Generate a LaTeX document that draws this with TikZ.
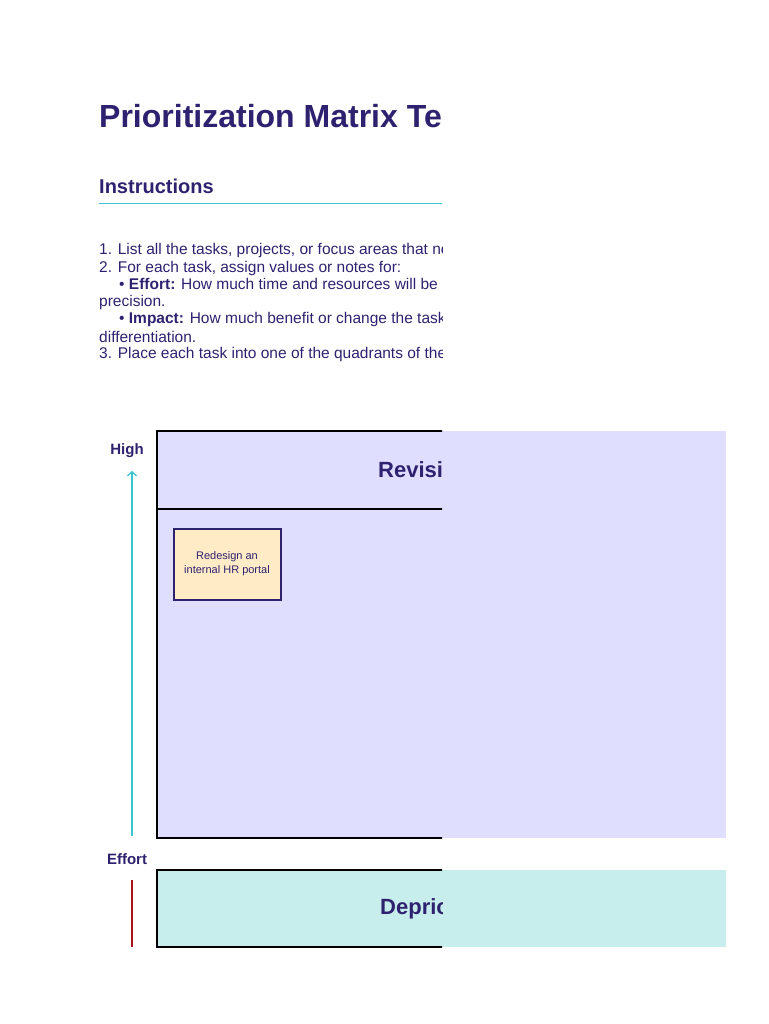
\documentclass[tikz,border=0pt]{standalone}
\usepackage{fontspec}
\setmainfont{Liberation Sans}
\usetikzlibrary{arrows.meta}
\definecolor{ink}{HTML}{2E2270}
\definecolor{lav}{HTML}{E0DEFF}
\definecolor{teal}{HTML}{C7EEEC}
\definecolor{note}{HTML}{FFEBC6}
\definecolor{aqua}{HTML}{3CC3D0}
\definecolor{ruby}{HTML}{A8121C}
\tikzset{
  txt/.style={text=ink, anchor=west, inner sep=0pt},
  body/.style={txt, font=\fontsize{15.5}{17}\selectfont},
  axislabel/.style={text=ink, font=\fontsize{15}{17}\selectfont\bfseries, inner sep=0pt},
  border/.style={line width=2pt, black},
}
\begin{document}
\begin{tikzpicture}[x=1pt, y=-1pt]
    \useasboundingbox (0,0) rectangle (768,1024);

    % Quadrant fills
    \fill[lav] (157,431) rectangle (726,838);
    \fill[teal] (157,870) rectangle (726,947);

    \begin{scope}
    \clip (0,0) rectangle (442,1024);
    % Title and instructions
    \node[txt, font=\fontsize{32}{36}\selectfont\bfseries] (title) at (99,119) {Prioritization Matrix Template};
    \node[txt, font=\fontsize{20}{24}\selectfont\bfseries] (instr) at (99,186) {Instructions};
    \draw[aqua, line width=1pt] (99,204) -- (442,204);

    \node[body] (l1) at (99,250) {1. List all the tasks, projects, or focus areas that need to be prioritized.};
    \node[body] (l2) at (99,268) {2. For each task, assign values or notes for:};
    \node[body] (l3) at (119,285) {\textbullet\ \textbf{Effort:} How much time and resources will be required, without overthinking};
    \node[body] (l4) at (99,302) {precision.};
    \node[body] (l5) at (119,319) {\textbullet\ \textbf{Impact:} How much benefit or change the task will bring, with a clear};
    \node[body] (l6) at (99,337) {differentiation.};
    \node[body] (l7) at (99,354) {3. Place each task into one of the quadrants of the matrix below.};

    % Quadrant borders
    \draw[border] (726,431) -- (157,431) -- (157,838) -- (726,838);
    \draw[border] (157,509) -- (726,509);
    \draw[border] (726,870) -- (157,870) -- (157,947) -- (726,947);

    % Quadrant titles
    \node[txt, font=\fontsize{22}{26}\selectfont\bfseries] (revisit) at (378,470) {Revisit Later};
    \node[txt, font=\fontsize{22}{26}\selectfont\bfseries] (deprio) at (380,909) {Deprioritize};
    \end{scope}

    % Task card
    \node[draw=ink, line width=2pt, fill=note, text=ink, minimum width=107pt, minimum height=71pt,
          align=center, font=\fontsize{11}{14}\selectfont] (task) at (227,564) {Redesign an\\internal HR portal};

    % Axis
    \node[axislabel] (high) at (127,451) {High};
    \node[axislabel] (effort) at (127,859) {Effort};
    \coordinate (abot) at (132,836);
    \coordinate (atop) at (132,471);
    \draw[aqua, line width=1.3pt, -{Straight Barb[length=4pt,width=9pt]}] (abot) -- (atop);
    \coordinate (rtop) at (132,880);
    \coordinate (rbot) at (132,947);
    \draw[ruby, line width=1.3pt] (rtop) -- (rbot);
\end{tikzpicture}
\end{document}
